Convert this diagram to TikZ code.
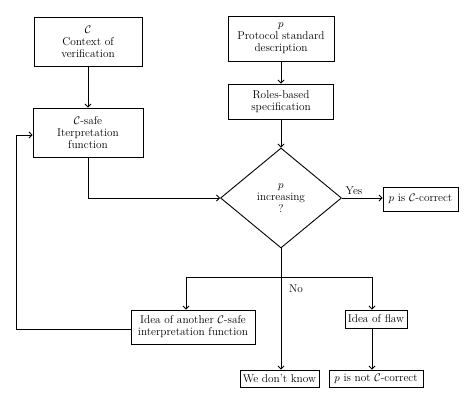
\documentclass[tikz,border=0pt]{standalone}
\usetikzlibrary{shapes.geometric,arrows.meta}
\begin{document}
\begin{tikzpicture}[x=1pt,y=-1pt,
  txt/.style={font=\fontsize{11.3}{12}\selectfont},
  box/.style={draw, line width=0.9pt, align=center, inner sep=0pt, txt},
  decision/.style={draw, diamond, line width=0.9pt, align=center, inner sep=0pt, aspect=1.21, minimum width=121pt, minimum height=100pt, txt},
  conn/.style={line width=0.9pt, -{Straight Barb[length=3pt,width=6pt]}},
  lbl/.style={txt, inner sep=0pt}]
\useasboundingbox (0,0) rectangle (474,403);
\node[box, minimum width=108pt, minimum height=49pt] (ctx) at (88,41.5) {$\mathcal{C}$\\Context of\\verification};
\node[box, minimum width=110pt, minimum height=49pt] (safe) at (88,132.5) {$\mathcal{C}$-safe\\Iterpretation\\function};
\node[box, minimum width=106pt, minimum height=45pt] (proto) at (281,38.5) {$p$\\Protocol standard\\description};
\node[box, minimum width=105pt, minimum height=35pt] (roles) at (281,101.5) {Roles-based\\specification};
\node[decision] (dia) at (281,198) {$p$\\increasing\\?};
\node[box, minimum width=75pt, minimum height=24pt] (corr) at (420.5,199) {$p$ is $\mathcal{C}$-correct};
\node[box, minimum width=124pt, minimum height=34pt] (another) at (193,327) {Idea of another $\mathcal{C}$-safe\\interpretation function};
\node[box, minimum width=62pt, minimum height=18pt] (flaw) at (376,319) {Idea of flaw};
\node[box, minimum width=79pt, minimum height=17pt] (dk) at (279.5,378.5) {We don't know};
\node[box, minimum width=94pt, minimum height=17pt] (notc) at (376,378.5) {$p$ is not $\mathcal{C}$-correct};
\coordinate (br) at (281,277);
\coordinate (fb) at (16,329);
\draw[conn] (ctx.south) -- (safe.north);
\draw[conn] (safe.south) |- (dia.west);
\draw[conn] (proto.south) -- (roles.north);
\draw[conn] (roles.south) -- (dia.north);
\draw[conn] (dia.east) -- (dia.east -| corr.west);
\node[lbl] (yes) at (354,191) {Yes};
\draw[conn] (dia.south) -- (dia.south |- dk.north);
\draw[conn] (br) -| ([xshift=-7pt]another.north);
\draw[conn] (br) -| ([xshift=-4pt]flaw.north);
\draw[conn] ([xshift=-4pt]flaw.south) -- ([xshift=-4pt]notc.north);
\node[lbl] (no) at (296,289) {No};
\draw[conn] (another.west |- fb) -- (fb) |- ([yshift=-2.5pt]safe.west);
\end{tikzpicture}
\end{document}
